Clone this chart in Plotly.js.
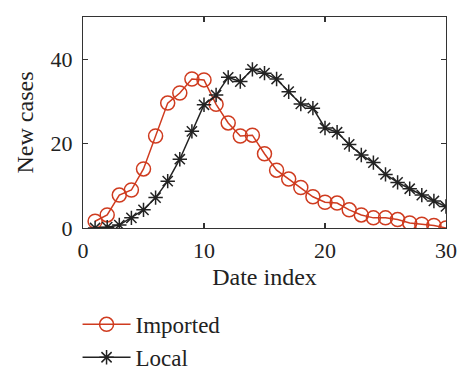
<!DOCTYPE html>
<html>
<head>
<meta charset="utf-8">
<script src="https://cdn.plot.ly/plotly-3.0.1.min.js"></script>
<style>html,body{margin:0;padding:0;background:#fff;}#chart{width:474px;height:391px;}</style>
</head>
<body>
<div id="chart"></div>
<script>
const dateIndex = [1,2,3,4,5,6,7,8,9,10,11,12,13,14,15,16,17,18,19,20,21,22,23,24,25,26,27,28,29,30];
const imported = [1.6,3.1,7.8,9.0,14.0,21.8,29.6,32.0,35.3,35.1,29.3,24.9,21.8,22.0,17.6,13.7,11.6,9.6,7.4,6.1,5.9,4.3,3.1,2.4,2.4,2.0,1.2,0.9,0.6,0.0];
const local = [0.0,0.2,0.7,2.4,4.3,7.2,11.1,16.3,22.9,29.2,31.5,35.7,34.7,37.6,36.7,35.3,32.3,29.4,28.4,23.7,22.7,19.8,17.3,15.5,12.7,10.8,9.3,7.8,6.4,5.1];
const xTicks = [0,10,20,30];
const yTicks = [0,20,40];

const font = "'Liberation Serif', 'DejaVu Serif', serif";
const traces = [
  {x: dateIndex, y: imported, name: 'Imported', type: 'scatter', mode: 'lines+markers',
   line: {color: '#cf3b1f', width: 1.5},
   marker: {symbol: 'circle-open', size: 14, color: '#cf3b1f', line: {width: 1.5}}},
  {x: dateIndex, y: local, name: 'Local', type: 'scatter', mode: 'lines+markers',
   line: {color: '#222222', width: 1.5},
   marker: {symbol: 'asterisk-open', size: 12, color: '#222222', line: {width: 1.5}}}
];
const axisCommon = {showgrid: false, zeroline: false, showline: true, linecolor: '#333', linewidth: 1.2,
  mirror: 'ticks', ticks: 'inside', ticklen: 5, tickcolor: '#333', tickwidth: 1.2,
  tickfont: {family: font, size: 22, color: '#222'}};
const layout = {
  width: 474, height: 391,
  margin: {l: 83, r: 28, t: 17, b: 161},
  paper_bgcolor: '#fff', plot_bgcolor: '#fff',
  font: {family: font, color: '#222'},
  xaxis: Object.assign({}, axisCommon, {range: [0, 30], tickvals: xTicks, ticktext: xTicks.map(String),
    ticklabelstandoff: 2,
    title: {text: 'Date index', font: {family: font, size: 24, color: '#222'}, standoff: 6}}),
  yaxis: Object.assign({}, axisCommon, {range: [0, 50], tickvals: yTicks, ticktext: yTicks.map(String),
    ticklabelstandoff: 5,
    title: {text: 'New cases', font: {family: font, size: 24, color: '#222'}, standoff: 10}}),
  showlegend: true,
  legend: {x: -0.015, xanchor: 'left', y: -0.355, yanchor: 'top', orientation: 'v',
    font: {family: font, size: 23, color: '#222'}, bgcolor: 'rgba(0,0,0,0)', itemwidth: 48, tracegroupgap: 0}
};
Plotly.newPlot('chart', traces, layout, {displayModeBar: false, staticPlot: true});
</script>
</body>
</html>
